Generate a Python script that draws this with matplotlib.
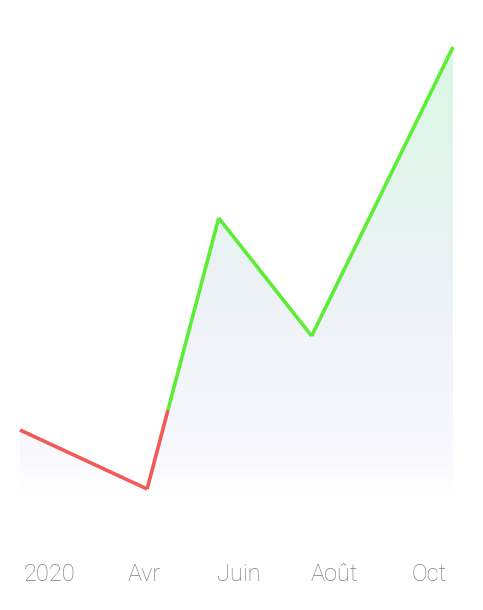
import numpy as np
import matplotlib.pyplot as plt
from matplotlib.colors import LinearSegmentedColormap
from matplotlib.patches import Polygon

# data (month index, 0 = Jan 2020)
months = [-0.62, 2.06, 3.57, 5.53, 8.51]
values = [67, 8, 279, 161, 450]
threshold = 87
tick_pos = [0, 2, 4, 6, 8]
tick_labels = ["2020", "Avr", "Juin", "Août", "Oct"]

red = "#f25a57"
green = "#5ded36"

fig = plt.figure(figsize=(4.83, 6.10), dpi=100)
ax = fig.add_axes([20 / 483, (610 - 497) / 610, 433 / 483, 477 / 610])
ax.set_xlim(months[0], months[-1])
ax.set_ylim(0, 477)

# gradient fill under the line
cmap = LinearSegmentedColormap.from_list(
    "fillgrad",
    [(0.0, (1, 1, 1, 0.0)), (0.08, (0.975, 0.975, 0.995, 1)),
     (0.45, (0.93, 0.95, 0.97, 1)), (1.0, (0.85, 0.97, 0.89, 1))])
grad = np.linspace(0, 1, 256).reshape(-1, 1)
img = ax.imshow(grad, cmap=cmap, origin="lower", aspect="auto",
                extent=[months[0], months[-1], 0, 450], zorder=1)
poly = Polygon(list(zip(months, values)) + [(months[-1], 0), (months[0], 0)],
               closed=True, facecolor="none", edgecolor="none")
ax.add_patch(poly)
img.set_clip_path(poly)

# line split at threshold
xs, ys = [months[0]], [values[0]]
for i in range(1, len(months)):
    x0, y0, x1, y1 = months[i - 1], values[i - 1], months[i], values[i]
    if (y0 - threshold) * (y1 - threshold) < 0:
        xc = x0 + (threshold - y0) * (x1 - x0) / (y1 - y0)
        xs.append(xc)
        ys.append(threshold)
    xs.append(x1)
    ys.append(y1)
xs, ys = np.array(xs), np.array(ys)
for i in range(len(xs) - 1):
    mid = (ys[i] + ys[i + 1]) / 2
    c = green if mid > threshold else red
    ax.plot(xs[i:i + 2], ys[i:i + 2], color=c, lw=2.6,
            solid_capstyle="butt", solid_joinstyle="miter", zorder=3, clip_on=False)

for s in ax.spines.values():
    s.set_visible(False)
ax.set_yticks([])
ax.set_xticks(tick_pos)
ax.set_xticklabels(tick_labels, fontsize=17, color="#7c7c7c",
                   family="Roboto", fontweight="light", fontstretch="condensed")
ax.tick_params(axis="x", length=0, pad=47.5)

fig.savefig("out.png", dpi=100)
